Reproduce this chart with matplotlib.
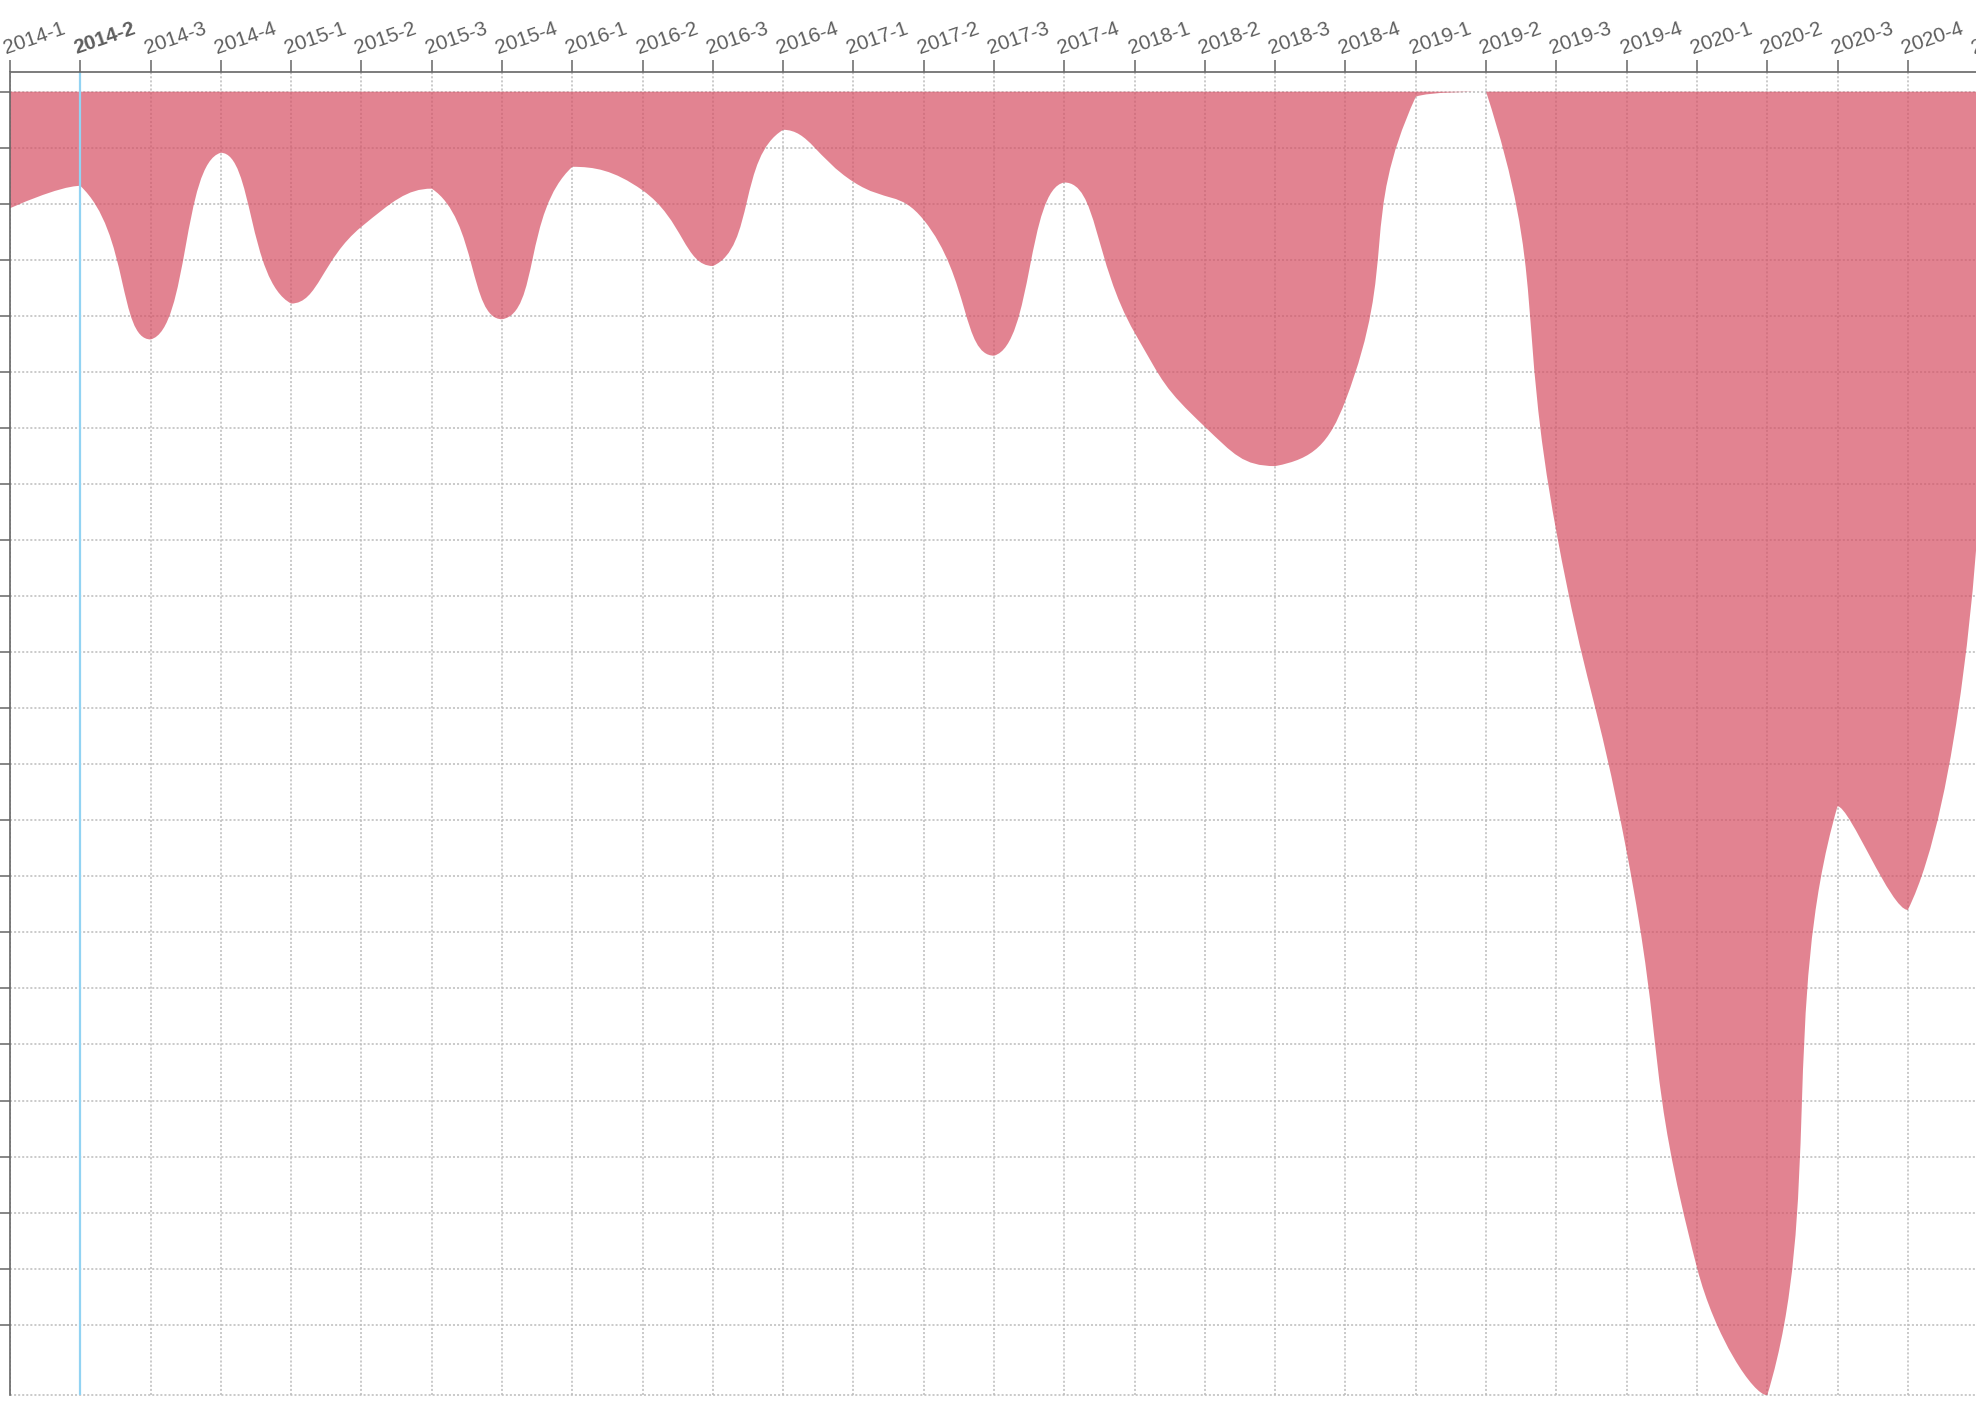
import numpy as np
import matplotlib
matplotlib.use("Agg")
import matplotlib.pyplot as plt
from matplotlib.path import Path
from matplotlib.patches import PathPatch
from matplotlib.transforms import offset_copy, blended_transform_factory

plt.rcParams['font.family'] = ['Liberation Sans', 'DejaVu Sans']

# ---------------- data ----------------
categories = ['2014-1', '2014-2', '2014-3', '2014-4',
              '2015-1', '2015-2', '2015-3', '2015-4',
              '2016-1', '2016-2', '2016-3', '2016-4',
              '2017-1', '2017-2', '2017-3', '2017-4',
              '2018-1', '2018-2', '2018-3', '2018-4',
              '2019-1', '2019-2', '2019-3', '2019-4',
              '2020-1', '2020-2', '2020-3', '2020-4',
              '2021-1']
values = [-20.8, -16.8, -44.2, -10.9,
          -37.8, -24.1, -17.3, -40.6,
          -13.4, -17.6, -31.1, -6.8,
          -16.1, -22.9, -47.1, -16.2,
          -43.0, -59.8, -66.8, -55.1,
          -0.9, 0.0, -78.5, -135.6,
          -209.8, -232.6, -127.5, -146.0,
          -77.0]
highlight = '2014-2'
y_ticks = list(range(0, -221, -10))
y_lower = -232.6
y_upper = 3.57

# ---------------- styles ----------------
AREA_COLOR = '#d64f63'
AXIS_COLOR = '#666666'
GRID_COLOR = '#bcbcbc'
POINTER_COLOR = '#92d3f3'
LABEL_COLOR = '#5e5e5e'

W, H = 1976, 1412
fig = plt.figure(figsize=(W / 100, H / 100), dpi=100)
left_px, right_px, top_px, bottom_px = 10.0, 1978.1, 71.7, 1395.3
ax = fig.add_axes([left_px / W, (H - bottom_px) / H,
                   (right_px - left_px) / W, (bottom_px - top_px) / H])

x = np.arange(len(categories))
ax.set_xlim(x[0], x[-1])
ax.set_ylim(y_lower, y_upper)

# grid
ax.set_xticks(x)
ax.set_yticks(y_ticks)
ax.grid(True, color=GRID_COLOR, linestyle=(0, (1.33, 1.33)), linewidth=1.1)
ax.set_axisbelow(True)
ax.axhline(y_lower, color=GRID_COLOR, linestyle=(0, (1.33, 1.33)),
           linewidth=1.1, zorder=0.5, clip_on=False)

# spines / ticks
for s in ['right', 'bottom']:
    ax.spines[s].set_visible(False)
for s in ['top', 'left']:
    ax.spines[s].set_color(AXIS_COLOR)
    ax.spines[s].set_linewidth(1.2)
    ax.spines[s].set_linestyle((0, (1.0, 1.0)))
    ax.spines[s].set_zorder(4)
ax.xaxis.set_ticks_position('top')
ax.tick_params(axis='x', which='both', top=True, bottom=False, labeltop=False,
               labelbottom=False, length=8.5, width=1.1, color=AXIS_COLOR,
               direction='out')
ax.tick_params(axis='y', which='both', left=True, right=False, labelleft=False,
               length=8, width=1.1, color=AXIS_COLOR, direction='out')

# ---------------- smoothed area (ECharts-style bezier smoothing) ----------------
pts = ax.transData.transform(np.column_stack([x, values]))
smooth = 0.5
verts = [pts[0]]
codes = [Path.MOVETO]
cp0 = pts[0].copy()
n = len(pts)
for i in range(1, n):
    p = pts[i]
    prev = pts[i - 1]
    if i == n - 1:
        cp1 = p.copy()
        next_cp0 = p.copy()
    else:
        nxt = pts[i + 1]
        v = nxt - prev
        lp = np.hypot(*(p - prev))
        ln = np.hypot(*(nxt - p))
        ratio = ln / (ln + lp)
        cp1 = p - v * smooth * (1 - ratio)
        next_cp0 = p + v * smooth * ratio
        # keep control points between neighbours (no overshoot)
        next_cp0 = np.minimum(next_cp0, np.maximum(nxt, p))
        next_cp0 = np.maximum(next_cp0, np.minimum(nxt, p))
        cp1 = np.minimum(cp1, np.maximum(prev, p))
        cp1 = np.maximum(cp1, np.minimum(prev, p))
    verts += [cp0, cp1, p]
    codes += [Path.CURVE4] * 3
    cp0 = next_cp0
data_verts = list(ax.transData.inverted().transform(np.array(verts)))
data_verts += [(x[-1], 0.0), (x[0], 0.0), (x[0], 0.0)]
codes += [Path.LINETO, Path.LINETO, Path.CLOSEPOLY]
area = PathPatch(Path(np.array(data_verts), codes), facecolor=AREA_COLOR,
                 alpha=0.7, edgecolor='none', zorder=1)
ax.add_patch(area)

# axis pointer
hi = categories.index(highlight)
ax.axvline(x[hi], color=POINTER_COLOR, linewidth=1.6, zorder=3)

# rotated category labels on top
base = blended_transform_factory(ax.transData, ax.transAxes)
tr = offset_copy(base, fig=fig, x=-4, y=17.5, units='dots')
for xi, cat in zip(x, categories):
    ax.text(xi, 1.0, cat, transform=tr, rotation=19, rotation_mode='anchor',
            ha='left', va='baseline', fontsize=14.8, color=LABEL_COLOR,
            fontweight='bold' if cat == highlight else 'normal', clip_on=False)

fig.savefig('out.png', dpi=100)
